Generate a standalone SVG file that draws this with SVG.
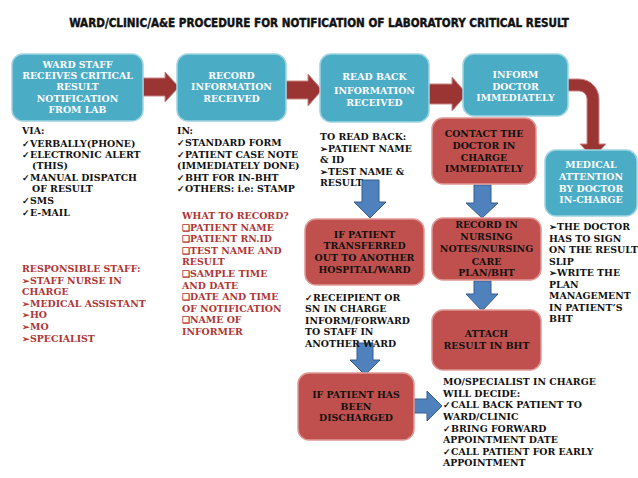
<svg xmlns="http://www.w3.org/2000/svg" width="638" height="478" viewBox="0 0 638 478">
<style>
.title{font-family:"DejaVu Sans Condensed","Liberation Sans Narrow","Liberation Sans",sans-serif;font-weight:bold;font-size:11.6px;fill:#111;stroke:#111;stroke-width:0.4}
.t{font-family:"DejaVu Serif","Liberation Serif",serif;font-weight:bold;font-size:9.4px;fill:#111}
.r{font-family:"DejaVu Serif","Liberation Serif",serif;font-weight:bold;font-size:9.4px;fill:#B03535}
.w{font-family:"DejaVu Serif","Liberation Serif",serif;font-weight:bold;font-size:9.4px;fill:#fff;text-anchor:middle}
.k{font-family:"DejaVu Serif","Liberation Serif",serif;font-weight:bold;font-size:9.4px;fill:#111;text-anchor:middle}
.bb{fill:#4BACC6;stroke:#9ED3E2;stroke-width:1.5}
.rb{fill:#C0504D;stroke:#DE9896;stroke-width:1.5}
.ra{fill:#9B3533;stroke:#C98785;stroke-width:1}
.ba{fill:#4F81BD;stroke:#385D8A;stroke-width:1}
</style>
<rect width="638" height="478" fill="#fff"/>
<text class="title" x="319" y="27" text-anchor="middle">WARD/CLINIC/A&amp;E PROCEDURE FOR NOTIFICATION OF LABORATORY CRITICAL RESULT</text>

<g id="connectors">
<path class="ra" d="M143,78 H165 V72 L179,87 L165,102 V96 H143 Z"/>
<path class="ra" d="M286,81 H308 V74 L322,90 L308,106 V99 H286 Z"/>
<path class="ra" d="M427,84 H452 V77 L467,94 L452,111 V104 H427 Z"/>
<path class="ra" d="M566,79 H579 A20,20 0 0 1 599,99 V144 H606 L593,158 L580,144 H587 V99 A8,8 0 0 0 579,91 H566 Z"/>
<path class="ba" d="M362,180 H379 V202 H386 L370,218 L354,202 H362 Z"/>
<path class="ba" d="M474,185 H491 V203 H498 L482,218 L466,203 H474 Z"/>
<path class="ba" d="M474,281 H491 V294 H498 L482,311 L466,294 H474 Z"/>
<path class="ba" d="M357,343 H373 V360 H380 L365,375 L350,360 H357 Z"/>
<path class="ba" d="M409,399 H427 V391 L442,406 L427,421 V413 H409 Z"/>
</g>

<g id="n-ward-staff">
<rect class="bb" x="12" y="54" width="131" height="67" rx="11"/>
<text class="w"><tspan x="77.5" y="68">WARD STAFF</tspan><tspan x="77.5" y="79">RECEIVES CRITICAL</tspan><tspan x="77.5" y="90">RESULT</tspan><tspan x="77.5" y="102">NOTIFICATION</tspan><tspan x="77.5" y="113">FROM LAB</tspan></text>
</g>
<g id="n-record-info">
<rect class="bb" x="177" y="54" width="109" height="67" rx="11"/>
<text class="w"><tspan x="231.5" y="79">RECORD</tspan><tspan x="231.5" y="90">INFORMATION</tspan><tspan x="231.5" y="102">RECEIVED</tspan></text>
</g>
<g id="n-read-back">
<rect class="bb" x="320" y="54" width="109" height="68" rx="11"/>
<text class="w"><tspan x="374.5" y="80">READ BACK</tspan><tspan x="374.5" y="94">INFORMATION</tspan><tspan x="374.5" y="106">RECEIVED</tspan></text>
</g>
<g id="n-inform-doctor">
<rect class="bb" x="463" y="54" width="105" height="62" rx="11"/>
<text class="w"><tspan x="515.5" y="78">INFORM</tspan><tspan x="515.5" y="90">DOCTOR</tspan><tspan x="515.5" y="101">IMMEDIATELY</tspan></text>
</g>
<g id="n-medical-attention">
<rect class="bb" x="545" y="150" width="92" height="66" rx="11"/>
<text class="w"><tspan x="591" y="168">MEDICAL</tspan><tspan x="591" y="180">ATTENTION</tspan><tspan x="591" y="192">BY DOCTOR</tspan><tspan x="591" y="203">IN-CHARGE</tspan></text>
</g>
<g id="n-contact">
<rect class="rb" x="432" y="118" width="104" height="66" rx="11"/>
<text class="k"><tspan x="484" y="137">CONTACT THE</tspan><tspan x="484" y="149">DOCTOR IN</tspan><tspan x="484" y="161">CHARGE</tspan><tspan x="484" y="172">IMMEDIATELY</tspan></text>
</g>
<g id="n-transferred">
<rect class="rb" x="305" y="219" width="119" height="66" rx="11"/>
<text class="k"><tspan x="364.5" y="238">IF PATIENT</tspan><tspan x="364.5" y="249">TRANSFERRED</tspan><tspan x="364.5" y="261">OUT TO ANOTHER</tspan><tspan x="364.5" y="273">HOSPITAL/WARD</tspan></text>
</g>
<g id="n-record-nursing">
<rect class="rb" x="432" y="218" width="109" height="62" rx="11"/>
<text class="k"><tspan x="486.5" y="228">RECORD IN</tspan><tspan x="486.5" y="240">NURSING</tspan><tspan x="486.5" y="252">NOTES/NURSING</tspan><tspan x="486.5" y="265">CARE</tspan><tspan x="486.5" y="276">PLAN/BHT</tspan></text>
</g>
<g id="n-attach">
<rect class="rb" x="432" y="310" width="109" height="60" rx="11"/>
<text class="k"><tspan x="486.5" y="337">ATTACH</tspan><tspan x="486.5" y="349">RESULT IN BHT</tspan></text>
</g>
<g id="n-discharged">
<rect class="rb" x="298" y="373" width="116" height="67" rx="11"/>
<text class="k"><tspan x="356" y="398">IF PATIENT HAS</tspan><tspan x="356" y="410">BEEN</tspan><tspan x="356" y="421">DISCHARGED</tspan></text>
</g>

<g id="n-via">
<text class="t"><tspan x="22" y="134">VIA:</tspan><tspan x="22" y="147">✓VERBALLY(PHONE)</tspan><tspan x="22" y="158">✓ELECTRONIC ALERT</tspan><tspan x="32" y="169">(THIS)</tspan><tspan x="22" y="181">✓MANUAL DISPATCH</tspan><tspan x="32" y="192">OF RESULT</tspan><tspan x="22" y="204">✓SMS</tspan><tspan x="22" y="216">✓E-MAIL</tspan></text>
</g>
<g id="n-in">
<text class="t"><tspan x="177" y="134">IN:</tspan><tspan x="177" y="146">✓STANDARD FORM</tspan><tspan x="177" y="158">✓PATIENT CASE NOTE</tspan><tspan x="177" y="169">(IMMEDIATELY DONE)</tspan><tspan x="177" y="181">✓BHT FOR IN-BHT</tspan><tspan x="177" y="192">✓OTHERS: i.e: STAMP</tspan></text>
</g>
<g id="n-what-to-record">
<text class="r"><tspan x="182" y="219">WHAT TO RECORD?</tspan><tspan x="182" y="231">❑PATIENT NAME</tspan><tspan x="182" y="242">❑PATIENT RN.ID</tspan><tspan x="182" y="254">❑TEST NAME AND</tspan><tspan x="182" y="265">RESULT</tspan><tspan x="182" y="277">❑SAMPLE TIME</tspan><tspan x="182" y="289">AND DATE</tspan><tspan x="182" y="300">❑DATE AND TIME</tspan><tspan x="182" y="312">OF NOTIFICATION</tspan><tspan x="182" y="323">❑NAME OF</tspan><tspan x="182" y="335">INFORMER</tspan></text>
</g>
<g id="n-responsible">
<text class="r"><tspan x="22" y="272">RESPONSIBLE STAFF:</tspan><tspan x="22" y="284">➢STAFF NURSE IN</tspan><tspan x="22" y="295">CHARGE</tspan><tspan x="22" y="307">➢MEDICAL ASSISTANT</tspan><tspan x="22" y="318">➢HO</tspan><tspan x="22" y="330">➢MO</tspan><tspan x="22" y="342">➢SPECIALIST</tspan></text>
</g>
<g id="n-to-read-back">
<text class="t"><tspan x="320" y="140">TO READ BACK:</tspan><tspan x="320" y="152">➢PATIENT NAME</tspan><tspan x="320" y="163">&amp; ID</tspan><tspan x="320" y="175">➢TEST NAME &amp;</tspan><tspan x="320" y="186">RESULT</tspan></text>
</g>
<g id="n-recipient">
<text class="t"><tspan x="305" y="301">✓RECEIPIENT OR</tspan><tspan x="305" y="312">SN IN CHARGE</tspan><tspan x="305" y="324">INFORM/FORWARD</tspan><tspan x="305" y="335">TO STAFF IN</tspan><tspan x="305" y="347">ANOTHER WARD</tspan></text>
</g>
<g id="n-doctor-sign">
<text class="t"><tspan x="549" y="230">➢THE DOCTOR</tspan><tspan x="549" y="242">HAS TO SIGN</tspan><tspan x="549" y="253">ON THE RESULT</tspan><tspan x="549" y="265">SLIP</tspan><tspan x="549" y="276">➢WRITE THE</tspan><tspan x="549" y="288">PLAN</tspan><tspan x="549" y="299">MANAGEMENT</tspan><tspan x="549" y="311">IN PATIENT’S</tspan><tspan x="549" y="322">BHT</tspan></text>
</g>
<g id="n-mo-decide">
<text class="t"><tspan x="443" y="385">MO/SPECIALIST IN CHARGE</tspan><tspan x="443" y="397">WILL DECIDE:</tspan><tspan x="443" y="408">✓CALL BACK PATIENT TO</tspan><tspan x="443" y="420">WARD/CLINIC</tspan><tspan x="443" y="432">✓BRING FORWARD</tspan><tspan x="443" y="443">APPOINTMENT DATE</tspan><tspan x="443" y="455">✓CALL PATIENT FOR EARLY</tspan><tspan x="443" y="466">APPOINTMENT</tspan></text>
</g>
</svg>
